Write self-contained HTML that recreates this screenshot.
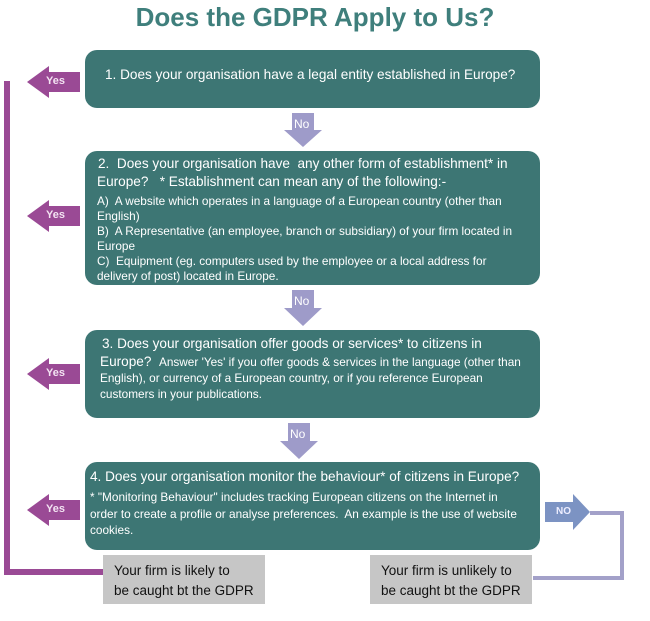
<!DOCTYPE html>
<html><head><meta charset="utf-8"><style>
body{margin:0;width:650px;height:621px;background:#fff;position:relative;overflow:hidden;font-family:"Liberation Sans",sans-serif}
.a{position:absolute;white-space:nowrap}
.box{position:absolute;left:85px;width:455px;background:#3d7674;border-radius:12px}
.t{position:absolute;color:#fff;white-space:nowrap}
.m{font-size:13.6px}.s{font-size:11.8px}
.gray{position:absolute;background:#c6c6c6;width:162px;height:49px;top:555px;font-size:13.5px;color:#111;line-height:20px;box-sizing:border-box;padding:6px 0 0 11px}
</style></head><body>
<div class="a" style="left:0;width:630px;text-align:center;top:2px;font-size:26px;font-weight:bold;color:#3f7f7c">Does the GDPR Apply to Us?</div>

<svg width="650" height="621" style="position:absolute;left:0;top:0">
<g fill="#9e9bc9">
<polygon points="292,113 314,113 314,130 322,130 303,147 284,130 292,130"/>
<polygon points="292,290 314,290 314,308 322,308 303,326 284,308 292,308"/>
<polygon points="288,423 310,423 310,441 318,441 299,459 280,441 288,441"/>
</g>
<path d="M7,81 V572 H103" fill="none" stroke="#9a4a95" stroke-width="6"/>
<g fill="#9a4a95">
<polygon points="27,82 49,66 49,72 80,72 80,92 49,92 49,98"/>
<polygon points="27,216 49,200 49,206 80,206 80,226 49,226 49,232"/>
<polygon points="27,374 49,358 49,364 80,364 80,384 49,384 49,390"/>
<polygon points="27,510 49,494 49,500 80,500 80,520 49,520 49,526"/>
</g>
<path d="M590,513 H622 V578 H533" fill="none" stroke="#a3a1c9" stroke-width="4"/>
<polygon points="545,502 573,502 573,494 590,512 573,530 573,522 545,522" fill="#7c93c3"/>
</svg>
<div class="a" style="left:46px;top:75px;font-size:11px;font-weight:bold;color:#f3e3f2">Yes</div>
<div class="a" style="left:46px;top:209px;font-size:11px;font-weight:bold;color:#f3e3f2">Yes</div>
<div class="a" style="left:46px;top:367px;font-size:11px;font-weight:bold;color:#f3e3f2">Yes</div>
<div class="a" style="left:46px;top:503px;font-size:11px;font-weight:bold;color:#f3e3f2">Yes</div>
<div class="a" style="left:556px;top:506px;font-size:10px;font-weight:bold;color:#eef">NO</div>
<div class="a" style="left:294px;top:117px;font-size:12px;color:#fff">No</div>
<div class="a" style="left:294px;top:294px;font-size:12px;color:#fff">No</div>
<div class="a" style="left:290px;top:427px;font-size:12px;color:#fff">No</div>

<div class="box" style="top:50px;height:58px">
<div class="t m" style="left:20px;top:17px">1. Does your organisation have a legal entity established in Europe?</div></div>

<div class="box" style="top:151px;height:134px">
<div class="t m" style="left:13px;top:5px">2.&nbsp; Does your organisation have &nbsp;any other form of establishment* in</div>
<div class="t m" style="left:12px;top:23px">Europe? &nbsp;&nbsp;* Establishment can mean any of the following:-</div>
<div class="t s" style="left:12px;top:43px">A)&nbsp; A website which operates in a language of a European country (other than</div>
<div class="t s" style="left:12px;top:58px">English)</div>
<div class="t s" style="left:12px;top:73px">B)&nbsp; A Representative (an employee, branch or subsidiary) of your firm located in</div>
<div class="t s" style="left:12px;top:88px">Europe</div>
<div class="t s" style="left:12px;top:103px">C)&nbsp; Equipment (eg. computers used by the employee or a local address for</div>
<div class="t s" style="left:12px;top:118px">delivery of post) located in Europe.</div></div>

<div class="box" style="top:330px;height:88px">
<div class="t m" style="left:17px;top:6px">3. Does your organisation offer goods or services* to citizens in</div>
<div class="t" style="left:15px;top:24px;font-size:13.6px">Europe?&nbsp; <span style="font-size:11.8px">Answer 'Yes' if you offer goods &amp; services in the language (other than</span></div>
<div class="t s" style="left:15px;top:41px">English), or currency of a European country, or if you reference European</div>
<div class="t s" style="left:15px;top:57px">customers in your publications.</div></div>

<div class="box" style="top:462px;height:88px">
<div class="t m" style="left:5px;top:7px">4. Does your organisation monitor the behaviour* of citizens in Europe?</div>
<div class="t s" style="left:5px;top:28px">* "Monitoring Behaviour" includes tracking European citizens on the Internet in</div>
<div class="t s" style="left:5px;top:45px">order to create a profile or analyse preferences.&nbsp; An example is the use of website</div>
<div class="t s" style="left:5px;top:61px">cookies.</div></div>

<div class="gray" style="left:103px">Your firm is likely to<br>be caught bt the GDPR</div>
<div class="gray" style="left:370px">Your firm is unlikely to<br>be caught bt the GDPR</div>
</body></html>
